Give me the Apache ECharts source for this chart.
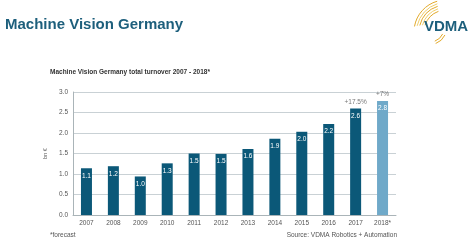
<!DOCTYPE html>
<html><head><meta charset="utf-8">
<script src="https://cdn.jsdelivr.net/npm/echarts@6/dist/echarts.min.js"></script>
<style>html,body{margin:0;padding:0;background:#fff}#c{width:474px;height:248px}</style>
</head><body><div id="c"></div>
<script>
const years = ['2007','2008','2009','2010','2011','2012','2013','2014','2015','2016','2017','2018*'];
const turnover = [1.14, 1.19, 0.94, 1.26, 1.50, 1.49, 1.61, 1.86, 2.03, 2.22, 2.60, 2.78];
const valueLabels = ['1.1','1.2','1.0','1.3','1.5','1.5','1.6','1.9','2.0','2.2','2.6','2.8'];
const growth = ['','','','','','','','','','','+17.5%','+7%'];
const yTicks = ['0.0','0.5','1.0','1.5','2.0','2.5','3.0'];

const dark = '#0b5878', light = '#6fa9c9';
const chart = echarts.init(document.getElementById('c'));
const deg = Math.PI / 180;
const arcs = [];
for (let i = 0; i < 5; i++) {
  arcs.push({type:'arc', shape:{cx:446, cy:32, r:22 + i*2.5, startAngle:(198 - i*2)*deg, endAngle:(250 + i)*deg},
    style:{stroke: i%2 ? '#f0cf6a' : '#e2a92a', lineWidth:1, fill:null}});
}
for (let i = 0; i < 2; i++) {
  arcs.push({type:'arc', shape:{cx:430, cy:28, r:14 + i*2.5, startAngle:25*deg, endAngle:70*deg},
    style:{stroke:'#e2a92a', lineWidth:1, fill:null}});
}
chart.setOption({
  animation:false,
  textStyle:{fontFamily:'Liberation Sans, Arial, sans-serif'},
  grid:{left:73, right:78, top:92, bottom:33},
  graphic:[
    {type:'text', left:5, top:17, style:{text:'Machine Vision Germany', fontSize:15, fontWeight:'bold', fill:'#1d5f7c', fontFamily:'Liberation Sans, Arial'}},
    {type:'text', left:50, top:69, style:{text:'Machine Vision Germany total turnover 2007 - 2018*', fontSize:6.5, fontWeight:'bold', fill:'#333', fontFamily:'Liberation Sans, Arial'}},
    {type:'text', left:50, top:232, style:{text:'*forecast', fontSize:6.5, fill:'#555', fontFamily:'Liberation Sans, Arial'}},
    {type:'text', right:77, top:232, style:{text:'Source: VDMA Robotics + Automation', fontSize:6.5, fill:'#555', fontFamily:'Liberation Sans, Arial'}},
    ...arcs,
    {type:'text', left:424, top:19, style:{text:'VDMA', fontSize:15, fontWeight:'bold', fill:'#1d5f7c', fontFamily:'Liberation Sans, Arial'}}
  ],
  xAxis:{type:'category', data:years, axisLine:{lineStyle:{color:'#aab4b8'}}, axisTick:{show:false},
    axisLabel:{fontSize:6.5, color:'#555', margin:5}},
  yAxis:{type:'value', min:0, max:3, interval:0.5, name:'bn €', nameLocation:'middle', nameGap:20, nameRotate:90,
    nameTextStyle:{fontSize:5.5, color:'#555'},
    axisLine:{show:true, lineStyle:{color:'#aab4b8'}}, axisTick:{show:false},
    axisLabel:{fontSize:6.5, color:'#555', margin:5, formatter:(v)=>yTicks[Math.round(v*2)]},
    splitLine:{lineStyle:{color:'#c9d1d5', width:1}}},
  series:[
    {type:'bar', barWidth:11,
     data:turnover.map((v,i)=>({value:v, itemStyle:{color: i===11?light:dark}})),
     label:{show:true, position:'insideTop', distance:4, fontSize:6.5, color:'#fff', formatter:(p)=>valueLabels[p.dataIndex]}},
    {type:'scatter', symbolSize:0, data:turnover, silent:true,
     label:{show:true, position:'top', distance:3, fontSize:6.5, color:'#555', formatter:(p)=>growth[p.dataIndex]}}
  ]
});
</script></body></html>
